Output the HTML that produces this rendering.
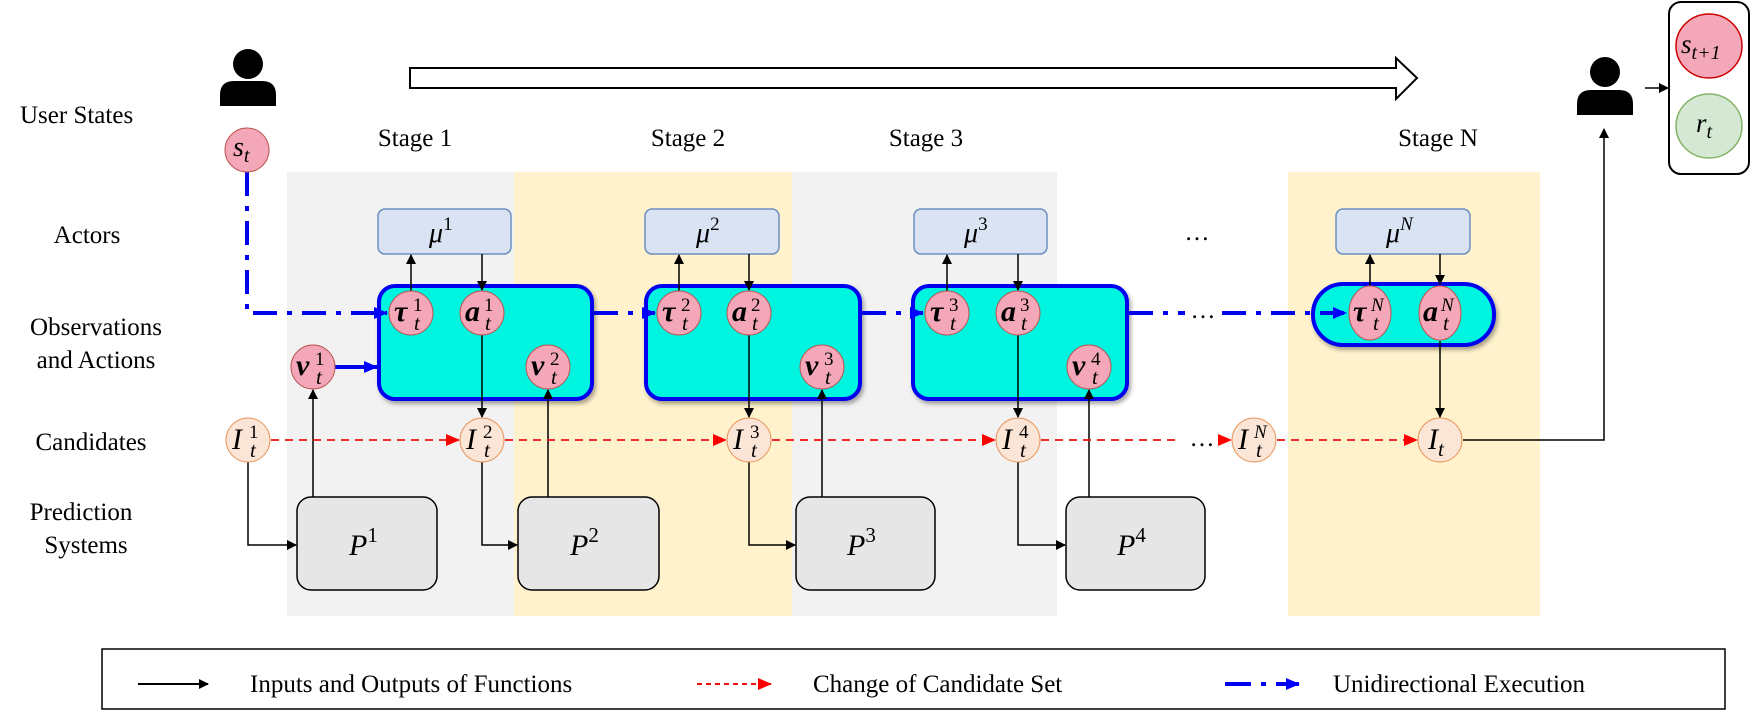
<!DOCTYPE html>
<html><head><meta charset="utf-8"><style>
html,body{margin:0;padding:0;background:#fff;}
svg{display:block;}
.lbl{font-family:"Liberation Serif",serif;font-size:25px;fill:#000;}
.m{font-family:"Liberation Serif",serif;font-style:italic;fill:#000;}
.mb{font-family:"Liberation Serif",serif;font-style:italic;font-weight:bold;fill:#000;}
.sp{font-family:"Liberation Serif",serif;fill:#000;font-size:19px;}
.sb{font-family:"Liberation Serif",serif;font-style:italic;fill:#000;font-size:21px;}
</style></head><body>
<svg width="1752" height="721" viewBox="0 0 1752 721" xmlns="http://www.w3.org/2000/svg">
<defs>
<marker id="ak" markerWidth="10" markerHeight="10" refX="9" refY="5" orient="auto" markerUnits="userSpaceOnUse"><path d="M0,0 L10,5 L0,10 z" fill="#000"/></marker>
<marker id="ar" markerWidth="14" markerHeight="14" refX="13" refY="7" orient="auto" markerUnits="userSpaceOnUse"><path d="M0,1 L14,7 L0,13 z" fill="#f00"/></marker>
<marker id="ab" markerWidth="14" markerHeight="14" refX="13" refY="7" orient="auto" markerUnits="userSpaceOnUse"><path d="M0,1 L14,7 L0,13 z" fill="#00f"/></marker>
<filter id="sh" x="-10%" y="-10%" width="120%" height="130%"><feDropShadow dx="2" dy="3" stdDeviation="2" flood-color="#000" flood-opacity="0.35"/></filter>
</defs>

<rect x="287" y="172" width="227" height="444" fill="#f2f2f2"/>
<rect x="514" y="172" width="278" height="444" fill="#fff2cc"/>
<rect x="792" y="172" width="265" height="444" fill="#f2f2f2"/>
<rect x="1288" y="172" width="252" height="444" fill="#fff2cc"/>

<path d="M410,68 L1396,68 L1396,58 L1417,78 L1396,99 L1396,88 L410,88 Z" fill="#fff" stroke="#000" stroke-width="2"/>

<circle cx="248" cy="64" r="15" fill="#000"/>
<path d="M220,106 L220,95 Q220,81 234,81 L262,81 Q276,81 276,95 L276,106 Z" fill="#000"/>
<circle cx="1605" cy="72" r="15" fill="#000"/>
<path d="M1577,115 L1577,104 Q1577,90 1591,90 L1619,90 Q1633,90 1633,104 L1633,115 Z" fill="#000"/>

<rect x="1669" y="2" width="80" height="172" rx="12" fill="#fff" stroke="#000" stroke-width="2"/>
<ellipse cx="1709" cy="46" rx="33" ry="32" fill="#f4a7b9" stroke="#cc0000" stroke-width="1.5"/>
<text class="m" font-size="27" x="1681" y="53">s<tspan font-size="20" dy="6">t+1</tspan></text>
<ellipse cx="1709" cy="126" rx="33" ry="32" fill="#d5e8d4" stroke="#82b366" stroke-width="1.5"/>
<text class="m" font-size="27" x="1696" y="132">r<tspan font-size="20" dy="6">t</tspan></text>
<line x1="1645" y1="88" x2="1668" y2="88" stroke="#000" stroke-width="1.5" marker-end="url(#ak)"/>

<text class="lbl" x="20" y="123">User States</text>
<text class="lbl" x="87" y="243" text-anchor="middle">Actors</text>
<text class="lbl" x="96" y="335" text-anchor="middle">Observations</text>
<text class="lbl" x="96" y="368" text-anchor="middle">and Actions</text>
<text class="lbl" x="91" y="450" text-anchor="middle">Candidates</text>
<text class="lbl" x="81" y="520" text-anchor="middle">Prediction</text>
<text class="lbl" x="86" y="553" text-anchor="middle">Systems</text>

<text class="lbl" x="415" y="146" text-anchor="middle" font-size="24">Stage 1</text>
<text class="lbl" x="688" y="146" text-anchor="middle" font-size="24">Stage 2</text>
<text class="lbl" x="926" y="146" text-anchor="middle" font-size="24">Stage 3</text>
<text class="lbl" x="1438" y="146" text-anchor="middle" font-size="24">Stage N</text>
<text class="lbl" x="1197" y="240" text-anchor="middle" font-size="22">…</text>

<g fill="#dae3f3" stroke="#6c8ebf" stroke-width="1.5">
<rect x="378" y="209" width="133" height="45" rx="7"/>
<rect x="645" y="209" width="134" height="45" rx="7"/>
<rect x="914" y="209" width="133" height="45" rx="7"/>
<rect x="1336" y="209" width="134" height="45" rx="7"/>
</g>
<text class="m" font-size="28" x="429" y="242">μ<tspan font-size="19" dy="-12" font-style="normal">1</tspan></text>
<text class="m" font-size="28" x="696" y="242">μ<tspan font-size="19" dy="-12" font-style="normal">2</tspan></text>
<text class="m" font-size="28" x="964" y="242">μ<tspan font-size="19" dy="-12" font-style="normal">3</tspan></text>
<text class="m" font-size="28" x="1386" y="242">μ<tspan font-size="19" dy="-12">N</tspan></text>

<g fill="#00f5e1" stroke="#0000ee" stroke-width="4" filter="url(#sh)">
<rect x="379" y="286" width="213" height="113" rx="16"/>
<rect x="646" y="286" width="214" height="113" rx="16"/>
<rect x="913" y="286" width="214" height="113" rx="16"/>
<rect x="1313" y="284" width="181" height="61" rx="30"/>
</g>

<g stroke="#0000ee" stroke-width="4" fill="none" stroke-dasharray="24 10 5 10">
<path d="M247,172 L247,313 L387,313" marker-end="url(#ab)"/>
<path d="M594,313 L655,313" marker-end="url(#ab)"/>
<path d="M862,313 L923,313" marker-end="url(#ab)"/>
<path d="M1129,313 L1185,313"/>
<path d="M1222,313 L1346,313" marker-end="url(#ab)"/>
</g>
<text class="lbl" x="1203" y="318" text-anchor="middle" font-size="22">…</text>
<line x1="335" y1="367" x2="377" y2="367" stroke="#0000ee" stroke-width="4" marker-end="url(#ab)"/>

<g stroke="#000" stroke-width="1.5" fill="none" marker-end="url(#ak)">
<line x1="411" y1="291" x2="411" y2="255"/>
<line x1="482" y1="254" x2="482" y2="290"/>
<line x1="679" y1="291" x2="679" y2="255"/>
<line x1="749" y1="254" x2="749" y2="290"/>
<line x1="947" y1="291" x2="947" y2="255"/>
<line x1="1018" y1="254" x2="1018" y2="290"/>
<line x1="1370" y1="286" x2="1370" y2="255"/>
<line x1="1440" y1="254" x2="1440" y2="284"/>
<line x1="482" y1="335" x2="482" y2="417"/>
<line x1="749" y1="335" x2="749" y2="417"/>
<line x1="1018" y1="335" x2="1018" y2="417"/>
<line x1="1440" y1="341" x2="1440" y2="417"/>
<path d="M248,462 L248,545 L296,545"/>
<path d="M482,462 L482,545 L517,545"/>
<path d="M749,462 L749,545 L795,545"/>
<path d="M1018,462 L1018,545 L1065,545"/>
<line x1="313" y1="497" x2="313" y2="390"/>
<line x1="548" y1="497" x2="548" y2="390"/>
<line x1="822" y1="497" x2="822" y2="390"/>
<line x1="1089" y1="497" x2="1089" y2="390"/>
<path d="M1463,440 L1604,440 L1604,129"/>
</g>

<g stroke="#ee1111" stroke-width="1.8" fill="none" stroke-dasharray="8 6" marker-end="url(#ar)">
<line x1="271" y1="440" x2="459" y2="440"/>
<line x1="505" y1="440" x2="726" y2="440"/>
<line x1="772" y1="440" x2="995" y2="440"/>
<line x1="1218" y1="440" x2="1231" y2="440"/>
<line x1="1277" y1="440" x2="1417" y2="440"/>
</g>
<line x1="1041" y1="440" x2="1176" y2="440" stroke="#ee1111" stroke-width="1.8" stroke-dasharray="8 6"/>
<text class="lbl" x="1202" y="446" text-anchor="middle" font-size="22">…</text>

<g fill="#e6e6e6" stroke="#000" stroke-width="1.5">
<rect x="297" y="497" width="140" height="93" rx="14"/>
<rect x="518" y="497" width="141" height="93" rx="14"/>
<rect x="796" y="497" width="139" height="93" rx="14"/>
<rect x="1066" y="497" width="139" height="93" rx="14"/>
</g>
<text class="m" font-size="30" x="349" y="555">P<tspan font-size="21" dy="-13" font-style="normal">1</tspan></text>
<text class="m" font-size="30" x="570" y="555">P<tspan font-size="21" dy="-13" font-style="normal">2</tspan></text>
<text class="m" font-size="30" x="847" y="555">P<tspan font-size="21" dy="-13" font-style="normal">3</tspan></text>
<text class="m" font-size="30" x="1117" y="555">P<tspan font-size="21" dy="-13" font-style="normal">4</tspan></text>

<g fill="#f4a7b9" stroke="#b85450" stroke-width="1">
<circle cx="247" cy="150" r="22"/>
<circle cx="411" cy="313" r="22"/>
<circle cx="482" cy="313" r="22"/>
<circle cx="313" cy="367" r="22"/>
<circle cx="548" cy="367" r="22"/>
<circle cx="679" cy="313" r="22"/>
<circle cx="749" cy="313" r="22"/>
<circle cx="822" cy="367" r="22"/>
<circle cx="947" cy="313" r="22"/>
<circle cx="1018" cy="313" r="22"/>
<circle cx="1089" cy="367" r="22"/>
<ellipse cx="1370" cy="313" rx="21" ry="27"/>
<ellipse cx="1440" cy="313" rx="21" ry="27"/>
</g>
<g fill="#fbe5d6" stroke="#e8955a" stroke-width="1">
<circle cx="248" cy="440" r="22"/>
<circle cx="482" cy="440" r="22"/>
<circle cx="749" cy="440" r="22"/>
<circle cx="1018" cy="440" r="22"/>
<circle cx="1254" cy="440" r="22"/>
<circle cx="1440" cy="440" r="22"/>
</g>

<text class="m" font-size="28" x="233" y="156">s<tspan font-size="20" dy="6">t</tspan></text>

<g font-size="30">
<text class="mb" x="394" y="321">τ</text><text class="sp" x="413" y="311">1</text><text class="sb" x="414" y="330">t</text>
<text class="mb" x="465" y="321">a</text><text class="sp" x="484" y="311">1</text><text class="sb" x="485" y="330">t</text>
<text class="mb" x="296" y="375">v</text><text class="sp" x="315" y="365">1</text><text class="sb" x="316" y="384">t</text>
<text class="mb" x="531" y="375">v</text><text class="sp" x="550" y="365">2</text><text class="sb" x="551" y="384">t</text>

<text class="mb" x="662" y="321">τ</text><text class="sp" x="681" y="311">2</text><text class="sb" x="682" y="330">t</text>
<text class="mb" x="732" y="321">a</text><text class="sp" x="751" y="311">2</text><text class="sb" x="752" y="330">t</text>
<text class="mb" x="805" y="375">v</text><text class="sp" x="824" y="365">3</text><text class="sb" x="825" y="384">t</text>

<text class="mb" x="930" y="321">τ</text><text class="sp" x="949" y="311">3</text><text class="sb" x="950" y="330">t</text>
<text class="mb" x="1001" y="321">a</text><text class="sp" x="1020" y="311">3</text><text class="sb" x="1021" y="330">t</text>
<text class="mb" x="1072" y="375">v</text><text class="sp" x="1091" y="365">4</text><text class="sb" x="1092" y="384">t</text>

<text class="mb" x="1353" y="321">τ</text><text class="sp" x="1371" y="311" font-style="italic">N</text><text class="sb" x="1373" y="330">t</text>
<text class="mb" x="1423" y="321">a</text><text class="sp" x="1441" y="311" font-style="italic">N</text><text class="sb" x="1443" y="330">t</text>

<text class="m" x="232" y="449">I</text><text class="sp" x="249" y="438">1</text><text class="sb" x="250" y="457">t</text>
<text class="m" x="466" y="449">I</text><text class="sp" x="483" y="438">2</text><text class="sb" x="484" y="457">t</text>
<text class="m" x="733" y="449">I</text><text class="sp" x="750" y="438">3</text><text class="sb" x="751" y="457">t</text>
<text class="m" x="1002" y="449">I</text><text class="sp" x="1019" y="438">4</text><text class="sb" x="1020" y="457">t</text>
<text class="m" x="1238" y="449">I</text><text class="sp" x="1254" y="438" font-style="italic">N</text><text class="sb" x="1256" y="457">t</text>
<text class="m" x="1428" y="449">I<tspan font-size="21" dy="7">t</tspan></text>
</g>

<rect x="102" y="649" width="1623" height="60" fill="#fff" stroke="#000" stroke-width="1.5"/>
<line x1="138" y1="684" x2="208" y2="684" stroke="#000" stroke-width="2" marker-end="url(#ak)"/>
<text class="lbl" x="250" y="692" font-size="23">Inputs and Outputs of Functions</text>
<line x1="697" y1="684" x2="771" y2="684" stroke="#ee1111" stroke-width="2" stroke-dasharray="5 4" marker-end="url(#ar)"/>
<text class="lbl" x="813" y="692" font-size="23">Change of Candidate Set</text>
<line x1="1225" y1="684" x2="1299" y2="684" stroke="#0000ee" stroke-width="4" stroke-dasharray="26 10 5 10" marker-end="url(#ab)"/>
<text class="lbl" x="1333" y="692" font-size="23">Unidirectional Execution</text>
</svg>
</body></html>
